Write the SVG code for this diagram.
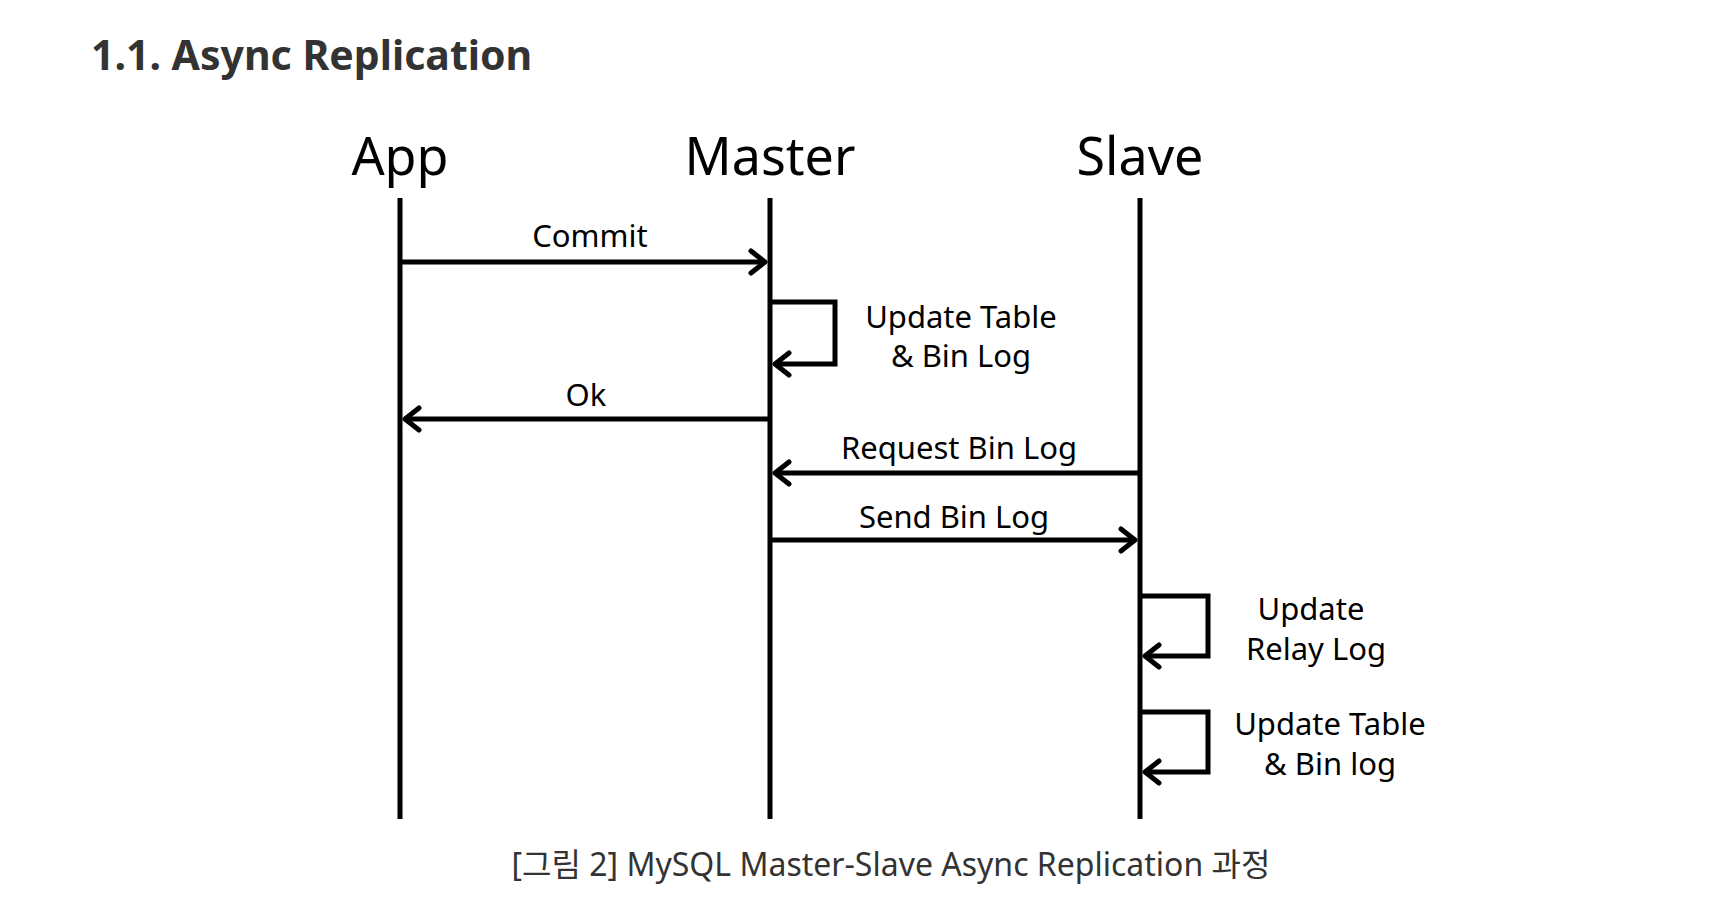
<svg xmlns="http://www.w3.org/2000/svg" width="1730" height="908" viewBox="0 0 1730 908">
<style>
.t{font-family:"Noto Sans","Liberation Sans",sans-serif;fill:#000}
.h{font-size:52px}
.l{font-size:31px;text-anchor:middle}
.ln{stroke:#000;stroke-width:5;fill:none}
.ah{stroke:#000;stroke-width:5;fill:none;stroke-linecap:round;stroke-linejoin:round}
</style>
<defs>
<marker id="a" viewBox="0 0 22 28" refX="19" refY="14" markerWidth="22" markerHeight="28" markerUnits="userSpaceOnUse" orient="auto">
<path d="M5,3 L19,14 L5,25" class="ah"/>
</marker>
</defs>
<rect width="1730" height="908" fill="#fff"/>
<text x="91" y="70" font-family="'Noto Sans','Liberation Sans',sans-serif" font-size="41" font-weight="bold" fill="#333">1.1. Async Replication</text>
<g id="app"><text class="t h" x="400" y="175" text-anchor="middle">App</text><line class="ln" x1="400" y1="198" x2="400" y2="819"/></g>
<g id="master"><text class="t h" x="770" y="175" text-anchor="middle" font-size="51">Master</text><line class="ln" x1="770" y1="198" x2="770" y2="819"/></g>
<g id="slave"><text class="t h" x="1140" y="175" text-anchor="middle">Slave</text><line class="ln" x1="1140" y1="198" x2="1140" y2="819"/></g>
<g id="connectors">
<line class="ln" x1="400" y1="262" x2="765" y2="262" marker-end="url(#a)"/>
<polyline class="ln" points="770,302 835,302 835,364 775,364" marker-end="url(#a)"/>
<line class="ln" x1="770" y1="419" x2="405" y2="419" marker-end="url(#a)"/>
<line class="ln" x1="1140" y1="473" x2="775" y2="473" marker-end="url(#a)"/>
<line class="ln" x1="770" y1="540" x2="1135" y2="540" marker-end="url(#a)"/>
<polyline class="ln" points="1140,596 1208,596 1208,656 1145,656" marker-end="url(#a)"/>
<polyline class="ln" points="1140,712 1208,712 1208,772 1145,772" marker-end="url(#a)"/>
</g>
<g id="labels">
<text class="t l" x="590" y="247">Commit</text>
<text class="t l" x="961" y="328">Update Table</text>
<text class="t l" x="961" y="367">&amp; Bin Log</text>
<text class="t l" x="586" y="406">Ok</text>
<text class="t l" x="959" y="459">Request Bin Log</text>
<text class="t l" x="954" y="528">Send Bin Log</text>
<text class="t l" x="1311" y="620">Update</text>
<text class="t l" x="1316" y="660">Relay Log</text>
<text class="t l" x="1330" y="735">Update Table</text>
<text class="t l" x="1330" y="775">&amp; Bin log</text>
</g>
<text x="891" y="876" text-anchor="middle" font-family="'Noto Sans','Noto Sans CJK KR',sans-serif" font-size="32" fill="#333">[그림 2] MySQL Master-Slave Async Replication 과정</text>
</svg>
